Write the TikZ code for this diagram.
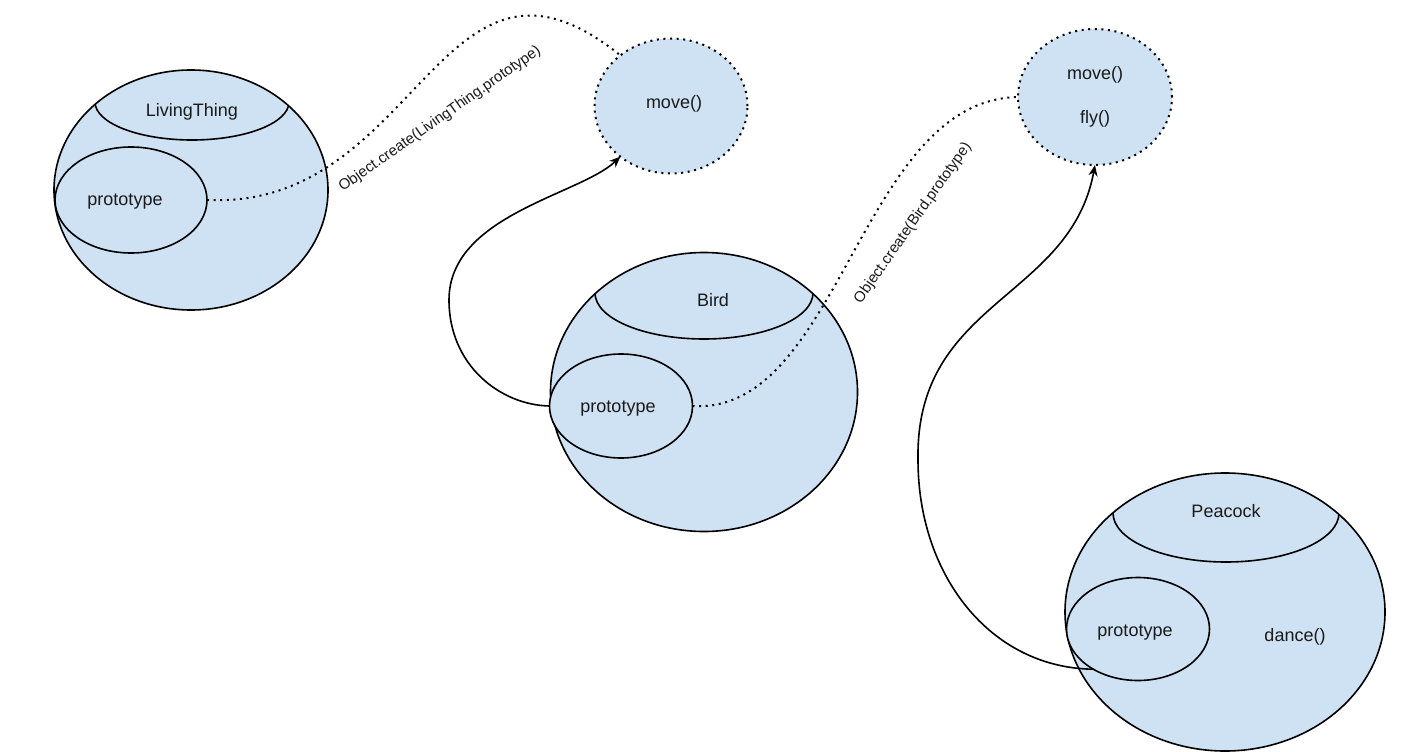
\documentclass[tikz,border=0pt]{standalone}
\usepackage{fontspec}
\setmainfont{Liberation Sans}
\usetikzlibrary{shapes.geometric,arrows.meta}
\definecolor{cfill}{HTML}{CFE2F3}
\definecolor{ink}{HTML}{1A1A1A}
\tikzset{
  outer/.style={ellipse, draw=black, fill=cfill, line width=1.6pt, inner sep=0pt, outer sep=0pt},
  capshape/.style={ellipse, draw=black, line width=1.6pt, inner sep=0pt, outer sep=0pt},
  meth/.style={ellipse, draw=black, fill=cfill, line width=2pt, dash pattern=on 2pt off 4.6pt, inner sep=0pt, outer sep=0pt},
  dots/.style={draw=black, line width=2pt, dash pattern=on 2pt off 4.6pt},
  link/.style={draw=black, line width=1.6pt, -{Stealth[length=11pt,width=9pt,inset=3.5pt]}},
  txt/.style={text=ink, font=\fontsize{18}{21}\selectfont, inner sep=0pt, anchor=base},
  elbl/.style={text=ink, font=\fontsize{15}{18}\selectfont, inner sep=0pt},
}
\begin{document}
\begin{tikzpicture}[x=1pt,y=-1pt]
\useasboundingbox (0,0) rectangle (1427,752);
\fill[white] (0,0) rectangle (1427,752);

% ---------- LivingThing ----------
\node[outer, minimum width=274pt, minimum height=240pt] (lt) at (191,190) {};
\begin{scope}
  \clip (191,190) ellipse [x radius=137pt, y radius=120pt];
  \node[capshape, minimum width=194pt, minimum height=76pt] (ltcap) at (192,102) {};
\end{scope}
\node[txt] (ltname) at (192,116) {LivingThing};
\node[outer, minimum width=152pt, minimum height=106pt] (ltp) at (131,200) {};
\node[txt] (ltptxt) at (125,205) {prototype};

% ---------- move() ----------
\node[meth, minimum width=153pt, minimum height=135pt] (m1) at (671,106) {};
\node[txt] (m1txt) at (674,108) {move()};

% ---------- Bird ----------
\node[outer, minimum width=307pt, minimum height=279pt] (bd) at (704,392) {};
\begin{scope}
  \clip (704,392) ellipse [x radius=153.5pt, y radius=139.5pt];
  \node[capshape, minimum width=218pt, minimum height=92pt] (bdcap) at (704,293) {};
\end{scope}
\node[txt] (bdname) at (713,306) {Bird};
\node[outer, minimum width=143pt, minimum height=104pt] (bp) at (621,406) {};
\node[txt] (bptxt) at (618,412) {prototype};

% ---------- move() fly() ----------
\node[meth, minimum width=154pt, minimum height=136pt] (m2) at (1095,97) {};
\node[txt] (m2a) at (1095,79) {move()};
\node[txt] (m2b) at (1095,123) {fly()};

% ---------- Peacock ----------
\node[outer, minimum width=320pt, minimum height=278pt] (pc) at (1225,612) {};
\begin{scope}
  \clip (1225,612) ellipse [x radius=160pt, y radius=139pt];
  \node[capshape, minimum width=226pt, minimum height=98pt] (pccap) at (1226,513) {};
\end{scope}
\node[txt] (pcname) at (1226,517) {Peacock};
\node[outer, minimum width=143pt, minimum height=103pt] (pp) at (1138,629) {};
\node[txt] (pptxt) at (1135,636) {prototype};
\node[txt] (pcdance) at (1295,641) {dance()};

% ---------- connectors ----------
\coordinate (bw) at (449,300);
\coordinate (pw) at (918,460);
\draw[dots] (ltp.east) .. controls (420,210) and (440,-90) .. (m1.135);
\draw[dots] (bp.east) .. controls (840,415) and (860,100) .. (m2.west);
\draw[link] (bp.west) .. controls (500,405) and (449,365) .. (bw)
            .. controls (449,215) and (580,195) .. (m1.225);
\draw[link] (pp.222) .. controls (990,668) and (918,575) .. (pw)
            .. controls (915,300) and (1070,300) .. (m2.south);

% ---------- edge labels ----------
\node[elbl, rotate=35] (lbl1) at (440,119) {Object.create(LivingThing.prototype)};
\node[elbl, rotate=55] (lbl2) at (913,223) {Object.create(Bird.prototype)};
\end{tikzpicture}
\end{document}
